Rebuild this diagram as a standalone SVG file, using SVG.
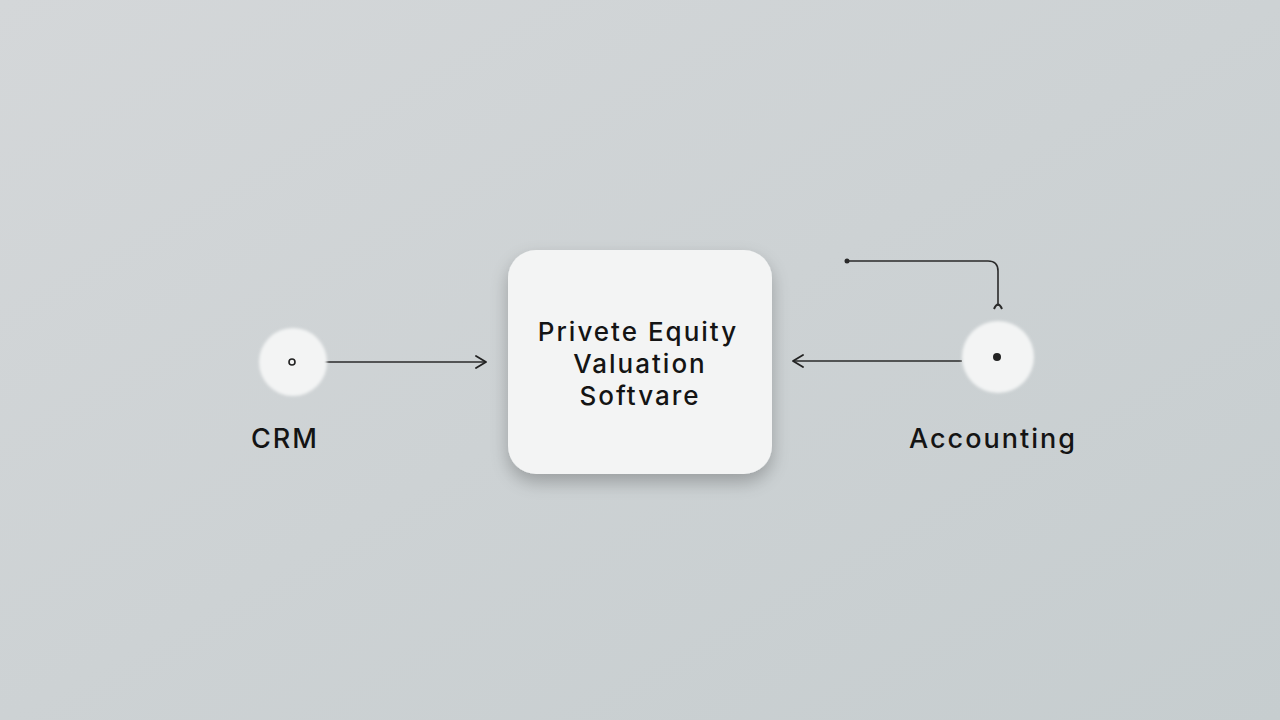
<svg xmlns="http://www.w3.org/2000/svg" width="1280" height="720" viewBox="0 0 1280 720">
<defs>
<linearGradient id="bg" x1="0" y1="0" x2="1" y2="1">
<stop offset="0" stop-color="#d4d7d9"/>
<stop offset="1" stop-color="#c6cdcf"/>
</linearGradient>
<filter id="sh" x="-30%" y="-30%" width="160%" height="170%">
<feGaussianBlur in="SourceAlpha" stdDeviation="9"/>
<feOffset dy="8"/>
<feComponentTransfer><feFuncA type="linear" slope="0.25"/></feComponentTransfer>
<feMerge><feMergeNode/><feMergeNode in="SourceGraphic"/></feMerge>
</filter>
<filter id="glow" x="-50%" y="-50%" width="200%" height="200%">
<feGaussianBlur stdDeviation="1.5"/>
</filter>
<marker id="chev" viewBox="0 0 12 14" refX="11" refY="7" markerWidth="12" markerHeight="14" markerUnits="userSpaceOnUse" orient="auto">
<path d="M1 1 L11 7 L1 13" fill="none" stroke="#222" stroke-width="1.8" stroke-linecap="round" stroke-linejoin="round"/>
</marker>
</defs>
<style>
.lbl{font-family:Inter,"Noto Sans",sans-serif;font-weight:500;fill:#141414;letter-spacing:2px;}
.ln{fill:none;stroke:#2a2a2a;stroke-width:1.6;}
.node{fill:#f3f4f4;}
</style>
<rect width="1280" height="720" fill="url(#bg)"/>
<g id="connectors">
<path class="ln" d="M292 362 L486 362" marker-end="url(#chev)"/>
<path class="ln" d="M962 361 L793 361" marker-end="url(#chev)"/>
<path class="ln" d="M847 261 L988 261 Q998 261 998 271 L998 306"/>
<path d="M994 309 Q998 300 1002 309" fill="none" stroke="#2a2a2a" stroke-width="2"/>
<circle cx="847" cy="261" r="2.5" fill="#2a2a2a"/>
</g>
<g id="crm">
<circle cx="293" cy="362" r="34" class="node" filter="url(#glow)"/>
<circle cx="292" cy="362" r="3" fill="#f3f4f4" stroke="#222" stroke-width="1.6"/>
<text x="285" y="448" class="lbl" font-size="27" text-anchor="middle">CRM</text>
</g>
<g id="pevs">
<rect x="508" y="250" width="264" height="224" rx="28" class="node" filter="url(#sh)"/>
<text x="638" y="341" class="lbl" font-size="26" text-anchor="middle">Privete Equity</text>
<text x="640" y="373" class="lbl" font-size="26" text-anchor="middle">Valuation</text>
<text x="640" y="405" class="lbl" font-size="26" text-anchor="middle">Softvare</text>
</g>
<g id="accounting">
<circle cx="998" cy="357" r="36" class="node" filter="url(#glow)"/>
<circle cx="997" cy="357" r="4" fill="#222"/>
<text x="993" y="448" class="lbl" font-size="27" text-anchor="middle">Accounting</text>
</g>
</svg>
